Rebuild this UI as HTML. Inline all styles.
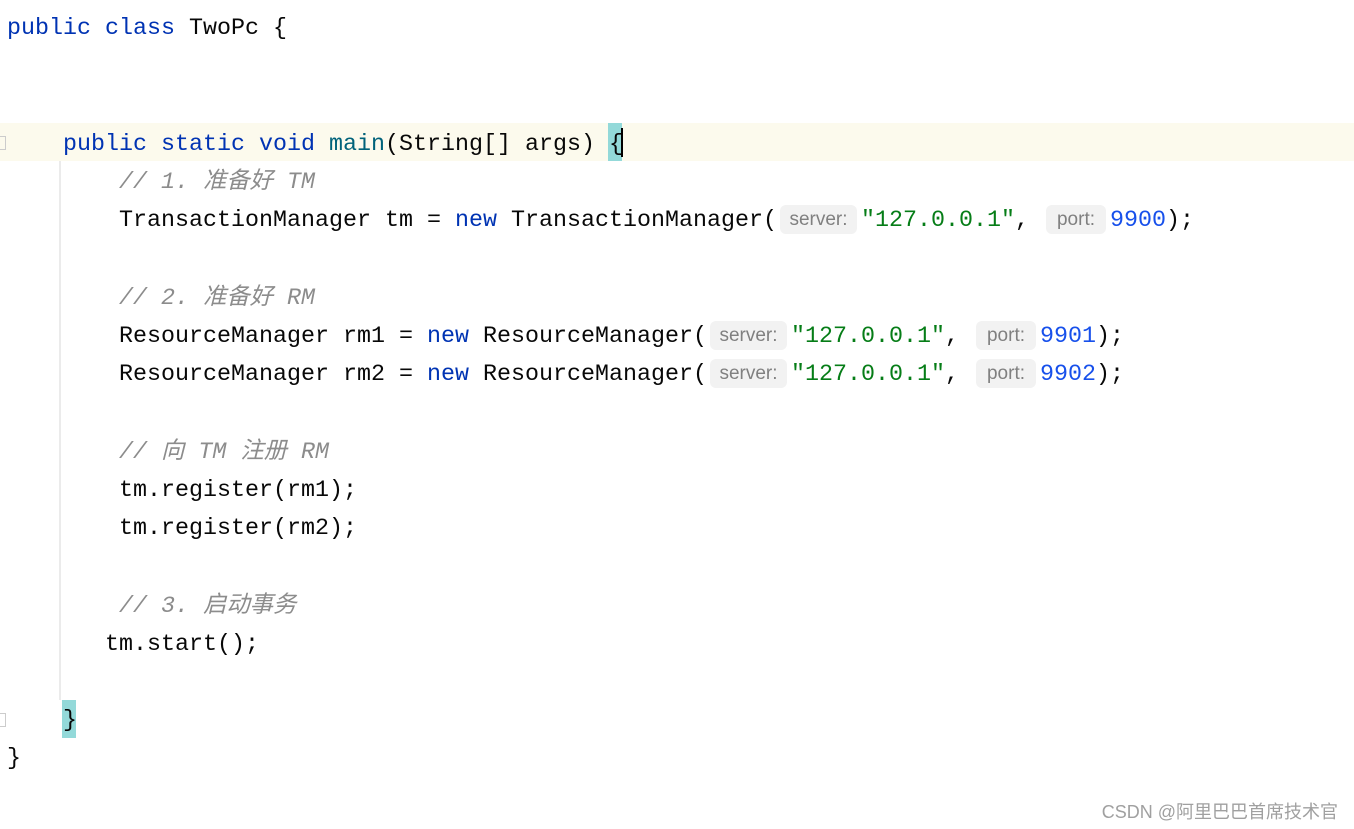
<!DOCTYPE html>
<html><head><meta charset="utf-8"><style>
html,body{margin:0;padding:0;background:#fff;width:1354px;height:829px;overflow:hidden;position:relative}
.l{position:absolute;left:0;height:38px;line-height:38px;font-family:"Liberation Mono","Noto Sans CJK SC",monospace;font-size:23.33px;color:#080808;white-space:pre;margin-top:2px}
.k{color:#0033b3}.f{color:#00627a}.c{color:#8c8c8c;font-style:italic}.s{color:#067d17}.n{color:#1750eb}
.h{position:absolute;height:29px;line-height:29px;background:#f2f2f2;border-radius:6px;color:#808080;font-family:"Liberation Sans",sans-serif;font-size:19px;text-align:center}
</style></head><body>
<div style="position:absolute;left:0;top:123px;width:1354px;height:38px;background:#fcfaed"></div>
<div style="position:absolute;left:608px;top:123px;width:14px;height:38px;background:#93d9d9"></div>
<div style="position:absolute;left:621px;top:128px;width:2px;height:29px;background:#000"></div>
<div style="position:absolute;left:62px;top:700px;width:14px;height:38px;background:#93d9d9"></div>
<div style="position:absolute;left:59px;top:161px;width:2px;height:539px;background:#ebebeb"></div>

<div class="l" style="top:8px;left:7px"><span class="k">public class</span> TwoPc {</div>
<div class="l" style="top:124px;left:7px">    <span class="k">public static void</span> <span class="f">main</span>(String[] args) {</div>
<div class="l c" style="top:162px;left:7px">        // 1. 准备好 TM</div>
<div class="l" style="top:200px;left:7px">        TransactionManager tm = <span class="k">new</span> TransactionManager(</div>
<div class="h" style="left:780px;top:205px;width:77px">server:</div>
<div class="l" style="top:200px;left:861px"><span class="s">"127.0.0.1"</span>,</div>
<div class="h" style="left:1046px;top:205px;width:60px">port:</div>
<div class="l" style="top:200px;left:1110px"><span class="n">9900</span>);</div>

<div class="l c" style="top:278px;left:7px">        // 2. 准备好 RM</div>
<div class="l" style="top:316px;left:7px">        ResourceManager rm1 = <span class="k">new</span> ResourceManager(</div>
<div class="h" style="left:710px;top:321px;width:77px">server:</div>
<div class="l" style="top:316px;left:791px"><span class="s">"127.0.0.1"</span>,</div>
<div class="h" style="left:976px;top:321px;width:60px">port:</div>
<div class="l" style="top:316px;left:1040px"><span class="n">9901</span>);</div>

<div class="l" style="top:354px;left:7px">        ResourceManager rm2 = <span class="k">new</span> ResourceManager(</div>
<div class="h" style="left:710px;top:359px;width:77px">server:</div>
<div class="l" style="top:354px;left:791px"><span class="s">"127.0.0.1"</span>,</div>
<div class="h" style="left:976px;top:359px;width:60px">port:</div>
<div class="l" style="top:354px;left:1040px"><span class="n">9902</span>);</div>

<div class="l c" style="top:432px;left:7px">        // 向 TM 注册 RM</div>
<div class="l" style="top:470px;left:7px">        tm.register(rm1);</div>
<div class="l" style="top:508px;left:7px">        tm.register(rm2);</div>
<div class="l c" style="top:586px;left:7px">        // 3. 启动事务</div>
<div class="l" style="top:624px;left:7px">       tm.start();</div>
<div class="l" style="top:700px;left:7px">    }</div>
<div class="l" style="top:738px;left:7px">}</div>

<div style="position:absolute;left:0;top:136px;width:5px;height:12px;border:1px solid #ccc;border-left:none"></div>
<div style="position:absolute;left:0;top:713px;width:5px;height:12px;border:1px solid #ccc;border-left:none"></div>

<div style="position:absolute;right:16px;top:798px;font-family:'Liberation Sans','Noto Sans CJK SC',sans-serif;font-size:18px;color:#a0a0a0">CSDN @阿里巴巴首席技术官</div>
</body></html>
